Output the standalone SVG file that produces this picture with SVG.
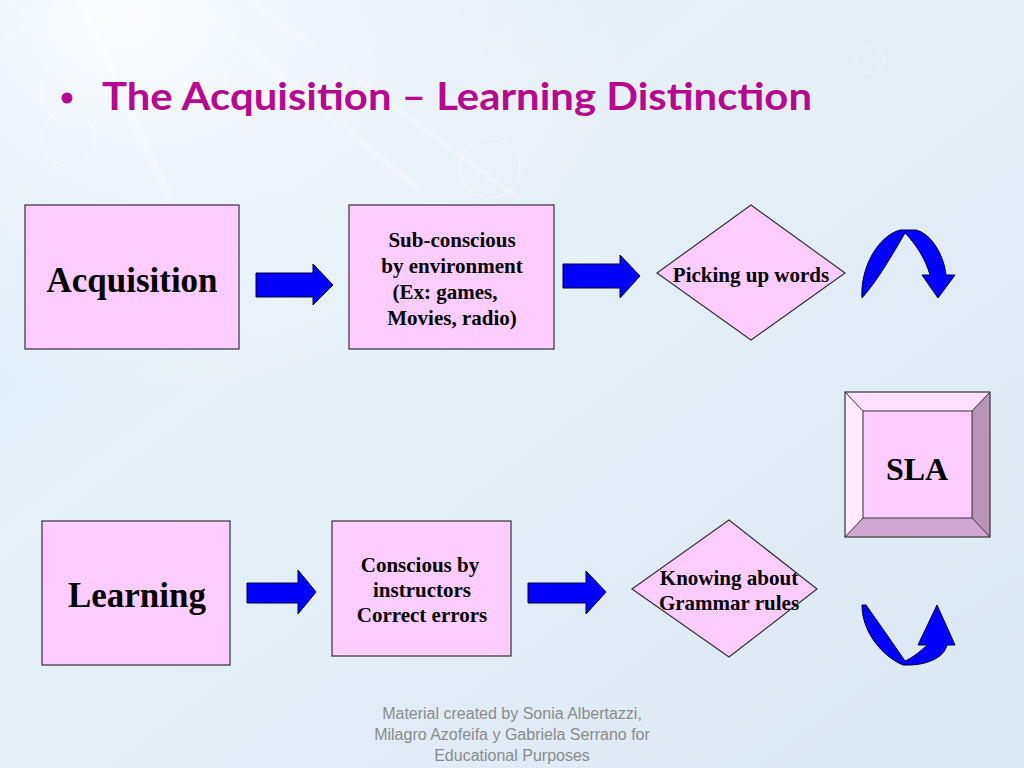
<svg xmlns="http://www.w3.org/2000/svg" width="1024" height="768" viewBox="0 0 1024 768">
<defs>
<linearGradient id="bg" x1="0" y1="0" x2="1" y2="1">
<stop offset="0" stop-color="#d3e6f6"/>
<stop offset="0.35" stop-color="#e6f0f8"/>
<stop offset="1" stop-color="#dbe7f3"/>
</linearGradient>
<radialGradient id="glow" cx="0.12" cy="0.02" r="0.5">
<stop offset="0" stop-color="#ffffff" stop-opacity="0.9"/>
<stop offset="1" stop-color="#ffffff" stop-opacity="0"/>
</radialGradient>
<style>
.box{fill:#ffccff;stroke:#333;stroke-width:1.2}
.arr{fill:#0000ff;stroke:#000033;stroke-width:1}
.big{font-family:"Liberation Serif",serif;font-weight:bold;font-size:35px;fill:#000;text-anchor:middle}
.sm{font-family:"Liberation Serif",serif;font-weight:bold;font-size:21px;fill:#000;text-anchor:middle}
.foot{font-family:"Liberation Sans",sans-serif;font-size:16px;fill:#8c8c8c;text-anchor:middle}
.ray{stroke:#ffffff;stroke-opacity:0.25;fill:none}
.bub{fill:none;stroke:#ffffff;stroke-opacity:0.4;stroke-width:1.2}
</style>
</defs>
<rect width="1024" height="768" fill="url(#bg)"/>
<rect width="1024" height="768" fill="url(#glow)"/>
<g id="decor">
<path class="ray" d="M190,0 L420,190" stroke-width="6"/>
<path class="ray" d="M250,0 L520,200" stroke-width="4"/>
<path class="ray" d="M80,0 L170,200" stroke-width="8"/>
<circle class="bub" cx="78" cy="90" r="38"/>
<circle class="bub" cx="68" cy="138" r="27"/>
<circle class="bub" cx="12" cy="20" r="14"/>
<circle class="bub" cx="242" cy="80" r="18"/>
<circle class="bub" cx="490" cy="168" r="30"/>
<circle class="bub" cx="870" cy="60" r="14"/>
</g>
<g id="title">
<circle cx="67" cy="98" r="5.5" fill="#b5098f"/>
<text x="102" y="110" font-family="Lato,'Liberation Sans',sans-serif" font-weight="bold" font-size="38" fill="#b5098f" textLength="710" lengthAdjust="spacingAndGlyphs">The Acquisition – Learning Distinction</text>
</g>
<g id="connectors">
<path class="arr" d="M256,273 L313,273 L313,264 L333,285 L313,305 L313,297 L256,297 Z"/>
<path class="arr" d="M563,264 L620,264 L620,255 L640,276 L620,298 L620,288 L563,288 Z"/>
<path class="arr" d="M247,583 L298,583 L298,570 L316,592 L298,614 L298,603 L247,603 Z"/>
<path class="arr" d="M528,583 L586,583 L586,571 L606,592 L586,614 L586,603 L528,603 Z"/>
<path id="curve-top" class="arr" d="M862,298 C860,268 878,236 900,230 L916,230 C932,234 944,256 946,275 L955,275 L938,298 L922,275 L930,275 C926,260 916,244 905,233 C892,255 878,280 862,298 Z"/>
<path id="curve-bottom" class="arr" d="M862,605 C862,632 882,656 903,665 C926,666 944,658 947,645 L955,645 L937,605 L918,645 L927,645 C920,652 912,658 905,661 C892,642 878,622 866,605 Z"/>
</g>
<g id="node-acquisition">
<rect class="box" x="25" y="205" width="214" height="144"/>
<text class="big" x="132" y="292">Acquisition</text>
</g>
<g id="node-subconscious">
<rect class="box" x="349" y="205" width="205" height="144"/>
<text class="sm" x="452" y="247">Sub-conscious</text>
<text class="sm" x="452" y="273">by environment</text>
<text class="sm" x="445" y="299">(Ex: games,</text>
<text class="sm" x="452" y="325">Movies, radio)</text>
</g>
<g id="node-picking">
<polygon class="box" points="751,205 845,273 751,340 657,273"/>
<text class="sm" x="751" y="282">Picking up words</text>
</g>
<g id="node-sla">
<rect x="845" y="392" width="145" height="145" fill="#ffccff"/>
<polygon points="845,392 990,392 972,411 863,411" fill="#ffe0ff"/>
<polygon points="845,392 863,411 863,518 845,537" fill="#ffeaff"/>
<polygon points="990,392 990,537 972,518 972,411" fill="#b894b8"/>
<polygon points="845,537 990,537 972,518 863,518" fill="#d2a8d2"/>
<rect x="863" y="411" width="109" height="107" fill="#ffccff" stroke="#333" stroke-width="1"/>
<rect x="845" y="392" width="145" height="145" fill="none" stroke="#333" stroke-width="1.2"/>
<path d="M845,392 L863,411 M990,392 L972,411 M845,537 L863,518 M990,537 L972,518" stroke="#333" stroke-width="1"/>
<text x="917" y="480" font-family="'Liberation Serif',serif" font-weight="bold" font-size="32" text-anchor="middle">SLA</text>
</g>
<g id="node-learning">
<rect class="box" x="42" y="521" width="188" height="144"/>
<text class="big" x="137" y="607">Learning</text>
</g>
<g id="node-conscious">
<rect class="box" x="332" y="521" width="179" height="135"/>
<text class="sm" x="420" y="572">Conscious by</text>
<text class="sm" x="422" y="597">instructors</text>
<text class="sm" x="422" y="622">Correct errors</text>
</g>
<g id="node-knowing">
<polygon class="box" points="729,520 817,589 729,657 632,589"/>
<text class="sm" x="729" y="585">Knowing about</text>
<text class="sm" x="729" y="610">Grammar rules</text>
</g>
<g id="footer">
<text class="foot" x="512" y="719">Material created by Sonia Albertazzi,</text>
<text class="foot" x="512" y="740">Milagro Azofeifa y Gabriela Serrano for</text>
<text class="foot" x="512" y="761">Educational Purposes</text>
</g>
</svg>
